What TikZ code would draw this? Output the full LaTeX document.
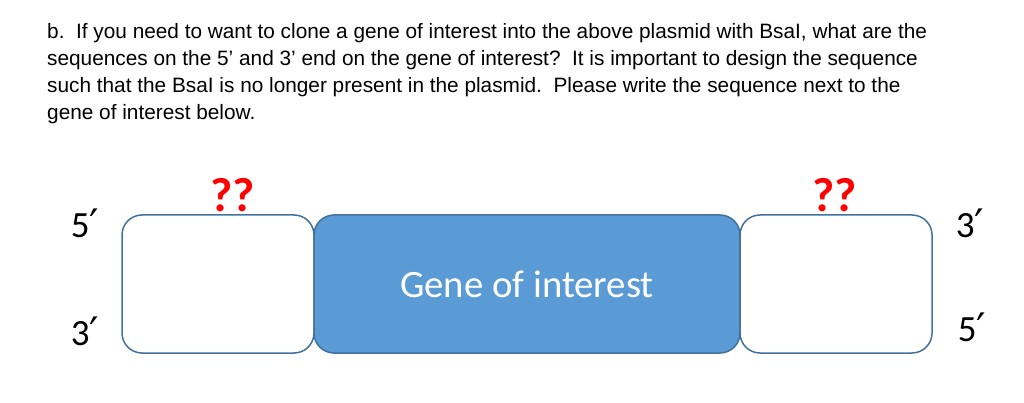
\documentclass[tikz,border=0pt]{standalone}
\usepackage{fontspec}
\setmainfont{Liberation Sans}
\newfontfamily\carlito{Carlito}
\newfontfamily\primefont{DejaVu Sans}
\newcommand{\pr}{{\primefont\fontsize{42}{42}\selectfont\raisebox{-2pt}{′}}}
\usetikzlibrary{positioning}
\definecolor{geneblue}{HTML}{5B9BD5}
\definecolor{edgeblue}{HTML}{41719C}

\begin{document}
\begin{tikzpicture}[x=1pt,y=-1pt]

        \useasboundingbox (0,0) rectangle (1024,403);

        \node[anchor=north west, align=left, inner sep=0pt,
              font=\fontsize{20.8}{27}\selectfont] (question) at (47,23)
          {b.\ \ If you need to want to clone a gene of interest into the above plasmid with BsaI, what are the\\
           sequences on the 5’ and 3’ end on the gene of interest?\ \ It is important to design the sequence\\
           such that the BsaI is no longer present in the plasmid.\ \ Please write the sequence next to the\\
           gene of interest below.};

        \begin{scope}[every node/.style={draw=edgeblue, line width=1.5pt, rounded corners=20pt,
                                         minimum height=138pt, outer sep=0pt, inner sep=0pt}]
          \node[minimum width=192pt] (left) at (218,284) {};
          \node[fill=geneblue, minimum width=426pt, right=0pt of left, text=white,
                font=\carlito\fontsize{38.7}{40}\selectfont] (gene) {Gene of interest};
          \node[minimum width=192pt, right=0pt of gene] (right) {};
        \end{scope}

        \begin{scope}[every node/.style={anchor=base, inner sep=0pt}]
          \node[text=red, font=\carlito\bfseries\fontsize{48}{50}\selectfont] (qleft)  at (233,212) {??};
          \node[text=red, font=\carlito\bfseries\fontsize{48}{50}\selectfont] (qright) at (835,212) {??};

          \begin{scope}[every node/.append style={font=\carlito\fontsize{37}{40}\selectfont}]
            \node (fiveleft)   at (85,237)  {5\pr};
            \node (threeleft)  at (85,345)  {3\pr};
            \node (threeright) at (970,237) {3\pr};
            \node (fiveright)  at (972,341) {5\pr};
          \end{scope}
        \end{scope}

      \end{tikzpicture}
\end{document}
